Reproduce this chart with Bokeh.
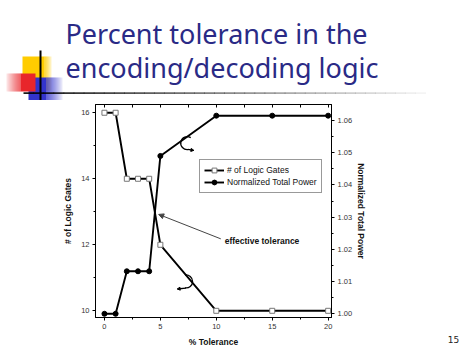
from bokeh.plotting import figure
from bokeh.layouts import column, row
from bokeh.models import (Range1d, LinearAxis, Legend, LegendItem, Label, Arrow,
                          NormalHead, FixedTicker, NumeralTickFormatter)
from bokeh.embed import file_html
from bokeh.resources import INLINE

# ---------------- data ----------------
tolerance = [0, 1, 2, 3, 4, 5, 10, 15, 20]
logic_gates = [16, 16, 14, 14, 14, 12, 10, 10, 10]
total_power = [1.000, 1.000, 1.0132, 1.0132, 1.0132, 1.049, 1.0615, 1.0615, 1.0615]

x_ticks = [0, 5, 10, 15, 20]
x_minor = [2.5, 7.5, 12.5, 17.5]
gate_ticks = [10, 12, 14, 16]
gate_minor = [11, 13, 15]
power_ticks = [1.00, 1.01, 1.02, 1.03, 1.04, 1.05, 1.06]
power_minor = [1.005, 1.015, 1.025, 1.035, 1.045, 1.055]

title_lines = ["Percent tolerance in the", "encoding/decoding logic"]
x_label = "% Tolerance"
y_label = "# of Logic Gates"
y2_label = "Normalized Total Power"
legend_labels = ["# of Logic Gates", "Normalized Total Power"]
note_text = "effective tolerance"
page_number = "15"

# ---------------- layout constants ----------------
W, H = 474, 355
HEAD_H = 100                 # header strip (slide title + decoration)
CHART_W = 380                # chart figure width
SIDE_W = W - CHART_W
BODY_H = H - HEAD_H
FL, FR, FT, FB = 95, 331, 104, 317   # frame edges in page px

FONT = "Liberation Sans"


def blank(width, height, xr, yr):
    f = figure(width=width, height=height, output_backend="svg", toolbar_location=None,
               title=None, x_range=xr, y_range=yr, min_border=0,
               x_axis_location=None, y_axis_location=None)
    f.grid.visible = False
    f.outline_line_color = None
    f.background_fill_color = "white"
    f.border_fill_color = "white"
    return f


# ---------------- header: slide decoration and title ----------------
head = blank(W, HEAD_H, Range1d(0, W), Range1d(HEAD_H, 0))


def box(l, r, t, b, color, alpha=1.0):
    head.quad(left=l, right=r, top=t, bottom=b, fill_color=color,
              fill_alpha=alpha, line_color=None)


# yellow square, fading to the right
box(22, 44, 56, 90, "#FFCC00")
for i in range(7):
    box(44 + i, 45 + i, 56, 90, "#FFCC00", 1 - i * 0.13)
# blue rectangle, fading to the right
box(28, 46, 77, 102, "#3333CC")
for i in range(16):
    box(46 + i, 47 + i, 77, 102, "#3333CC", 1 - i * 0.06)
# red rectangle, fading to the left
for i in range(14):
    box(6 + i, 7 + i, 73, 91, "#E8262B", 0.12 + i * 0.06)
box(20, 35, 73, 91, "#E8262B")
# horizontal rule, fading to the right
n = 40
for i in range(n):
    x0 = 23 + i * (402 / n)
    box(x0, x0 + 402 / n + 0.5, 91.8, 93.6, "#000000", max(0.04, 0.9 - i * 0.022))
# vertical rule
box(39, 41, 50, 101, "#000000")

title_color = "#2a2a86"
for i, line in enumerate(title_lines):
    head.add_layout(Label(x=65, y=32.5 + i * 34, text=line, text_font="Noto Sans",
                          text_font_size="27px", text_color=title_color,
                          text_baseline="middle"))

# ---------------- chart ----------------
p = figure(width=CHART_W, height=BODY_H, output_backend="svg", toolbar_location=None,
           title=None, x_range=Range1d(-0.8, 20.3), y_range=Range1d(9.797, 16.25),
           min_border_left=FL, min_border_right=CHART_W - FR,
           min_border_top=FT - HEAD_H, min_border_bottom=H - FB,
           x_axis_location=None, y_axis_location=None)
p.background_fill_color = "white"
p.border_fill_color = "white"
p.outline_line_color = "black"
p.outline_line_width = 1
p.grid.visible = False
p.extra_y_ranges = {"power": Range1d(0.99885, 1.06497)}


def style_axis(ax):
    ax.axis_line_color = "black"
    ax.major_tick_line_color = "black"
    ax.minor_tick_line_color = "black"
    ax.major_tick_out = 3
    ax.major_tick_in = 0
    ax.minor_tick_out = 2
    ax.minor_tick_in = 0
    ax.major_label_text_font = FONT
    ax.major_label_text_font_size = "7.5px"
    ax.major_label_text_color = "#333333"
    ax.major_label_standoff = 3
    ax.axis_label_text_font = FONT
    ax.axis_label_text_font_size = "8.5px"
    ax.axis_label_text_font_style = "bold"
    ax.axis_label_text_color = "#111111"


xb = LinearAxis(axis_label=x_label, ticker=FixedTicker(ticks=x_ticks, minor_ticks=x_minor))
style_axis(xb)
xb.axis_label_standoff = 5
p.add_layout(xb, "below")

# top frame ticks only (no labels)
xt = LinearAxis(ticker=FixedTicker(ticks=[], minor_ticks=x_ticks + x_minor))
style_axis(xt)
xt.major_label_standoff = 0
xt.minor_tick_out = 0
xt.minor_tick_in = 3
p.add_layout(xt, "above")

yl = LinearAxis(axis_label=y_label, ticker=FixedTicker(ticks=gate_ticks, minor_ticks=gate_minor))
style_axis(yl)
yl.axis_label_standoff = 5
p.add_layout(yl, "left")

yr = LinearAxis(y_range_name="power", axis_label=y2_label,
                ticker=FixedTicker(ticks=power_ticks, minor_ticks=power_minor))
style_axis(yr)
yr.formatter = NumeralTickFormatter(format="0.00")
yr.axis_label_standoff = 1
p.add_layout(yr, "right")

g_line = p.line(tolerance, logic_gates, line_color="black", line_width=1.9)
g_mark = p.scatter(tolerance, logic_gates, marker="square", size=5,
                   fill_color="white", line_color="#777777", line_width=1)
w_line = p.line(tolerance, total_power, y_range_name="power", line_color="black", line_width=1.9)
w_mark = p.scatter(tolerance, total_power, y_range_name="power", marker="circle", size=5,
                   fill_color="black", line_color="black")

legend = Legend(items=[LegendItem(label=legend_labels[0], renderers=[g_line, g_mark]),
                       LegendItem(label=legend_labels[1], renderers=[w_line, w_mark])],
                location=(199 - FL, FB - 193))
legend.label_text_font = FONT
legend.label_text_font_size = "8.5px"
legend.label_text_color = "#111111"
legend.glyph_width = 20
legend.glyph_height = 12
legend.label_height = 12
legend.label_standoff = 3
legend.spacing = 0
legend.padding = 4
legend.margin = 0
legend.border_line_color = "#333333"
legend.border_line_width = 1
legend.background_fill_color = "white"
legend.background_fill_alpha = 1
p.add_layout(legend, "center")

# effective tolerance note
p.add_layout(Arrow(end=NormalHead(size=5, line_color="#444444", fill_color="#444444", line_width=1),
                   x_start=10.4, y_start=12.18, x_end=4.85, y_end=12.92,
                   line_color="#444444", line_width=1))
p.add_layout(Label(x=10.75, y=12.11, text=note_text, text_font=FONT,
                   text_font_size="8.5px", text_font_style="bold", text_baseline="middle",
                   text_color="#111111"))

# curly pointers (upper -> right axis, lower -> left axis)
p.arc(x=[7.4], y=[15.08], radius=6.5, radius_units="screen",
      start_angle=1.0, end_angle=4.85, direction="anticlock", line_color="black", line_width=1.3)
p.add_layout(Arrow(end=NormalHead(size=3, fill_color="black", line_color="black"),
                   x_start=7.45, y_start=14.89, x_end=8.0, y_end=14.86,
                   line_color="black", line_width=1.3))
p.arc(x=[7.3], y=[10.89], radius=6.5, radius_units="screen",
      start_angle=-1.75, end_angle=1.75, direction="anticlock", line_color="black", line_width=1.3)
p.add_layout(Arrow(end=NormalHead(size=3, fill_color="black", line_color="black"),
                   x_start=7.28, y_start=10.69, x_end=6.5, y_end=10.66,
                   line_color="black", line_width=1.3))

# ---------------- side strip with the page number ----------------
side = blank(SIDE_W, BODY_H, Range1d(0, SIDE_W), Range1d(BODY_H, 0))
side.add_layout(Label(x=453 - CHART_W, y=338.5 - HEAD_H, text=page_number, text_font="DejaVu Sans",
                      text_font_size="9px", text_color="#222222", text_align="center",
                      text_baseline="middle"))

layout = column(head, row(p, column(side, spacing=0), spacing=0), spacing=0)
open("out.html", "w").write(file_html(layout, INLINE))
